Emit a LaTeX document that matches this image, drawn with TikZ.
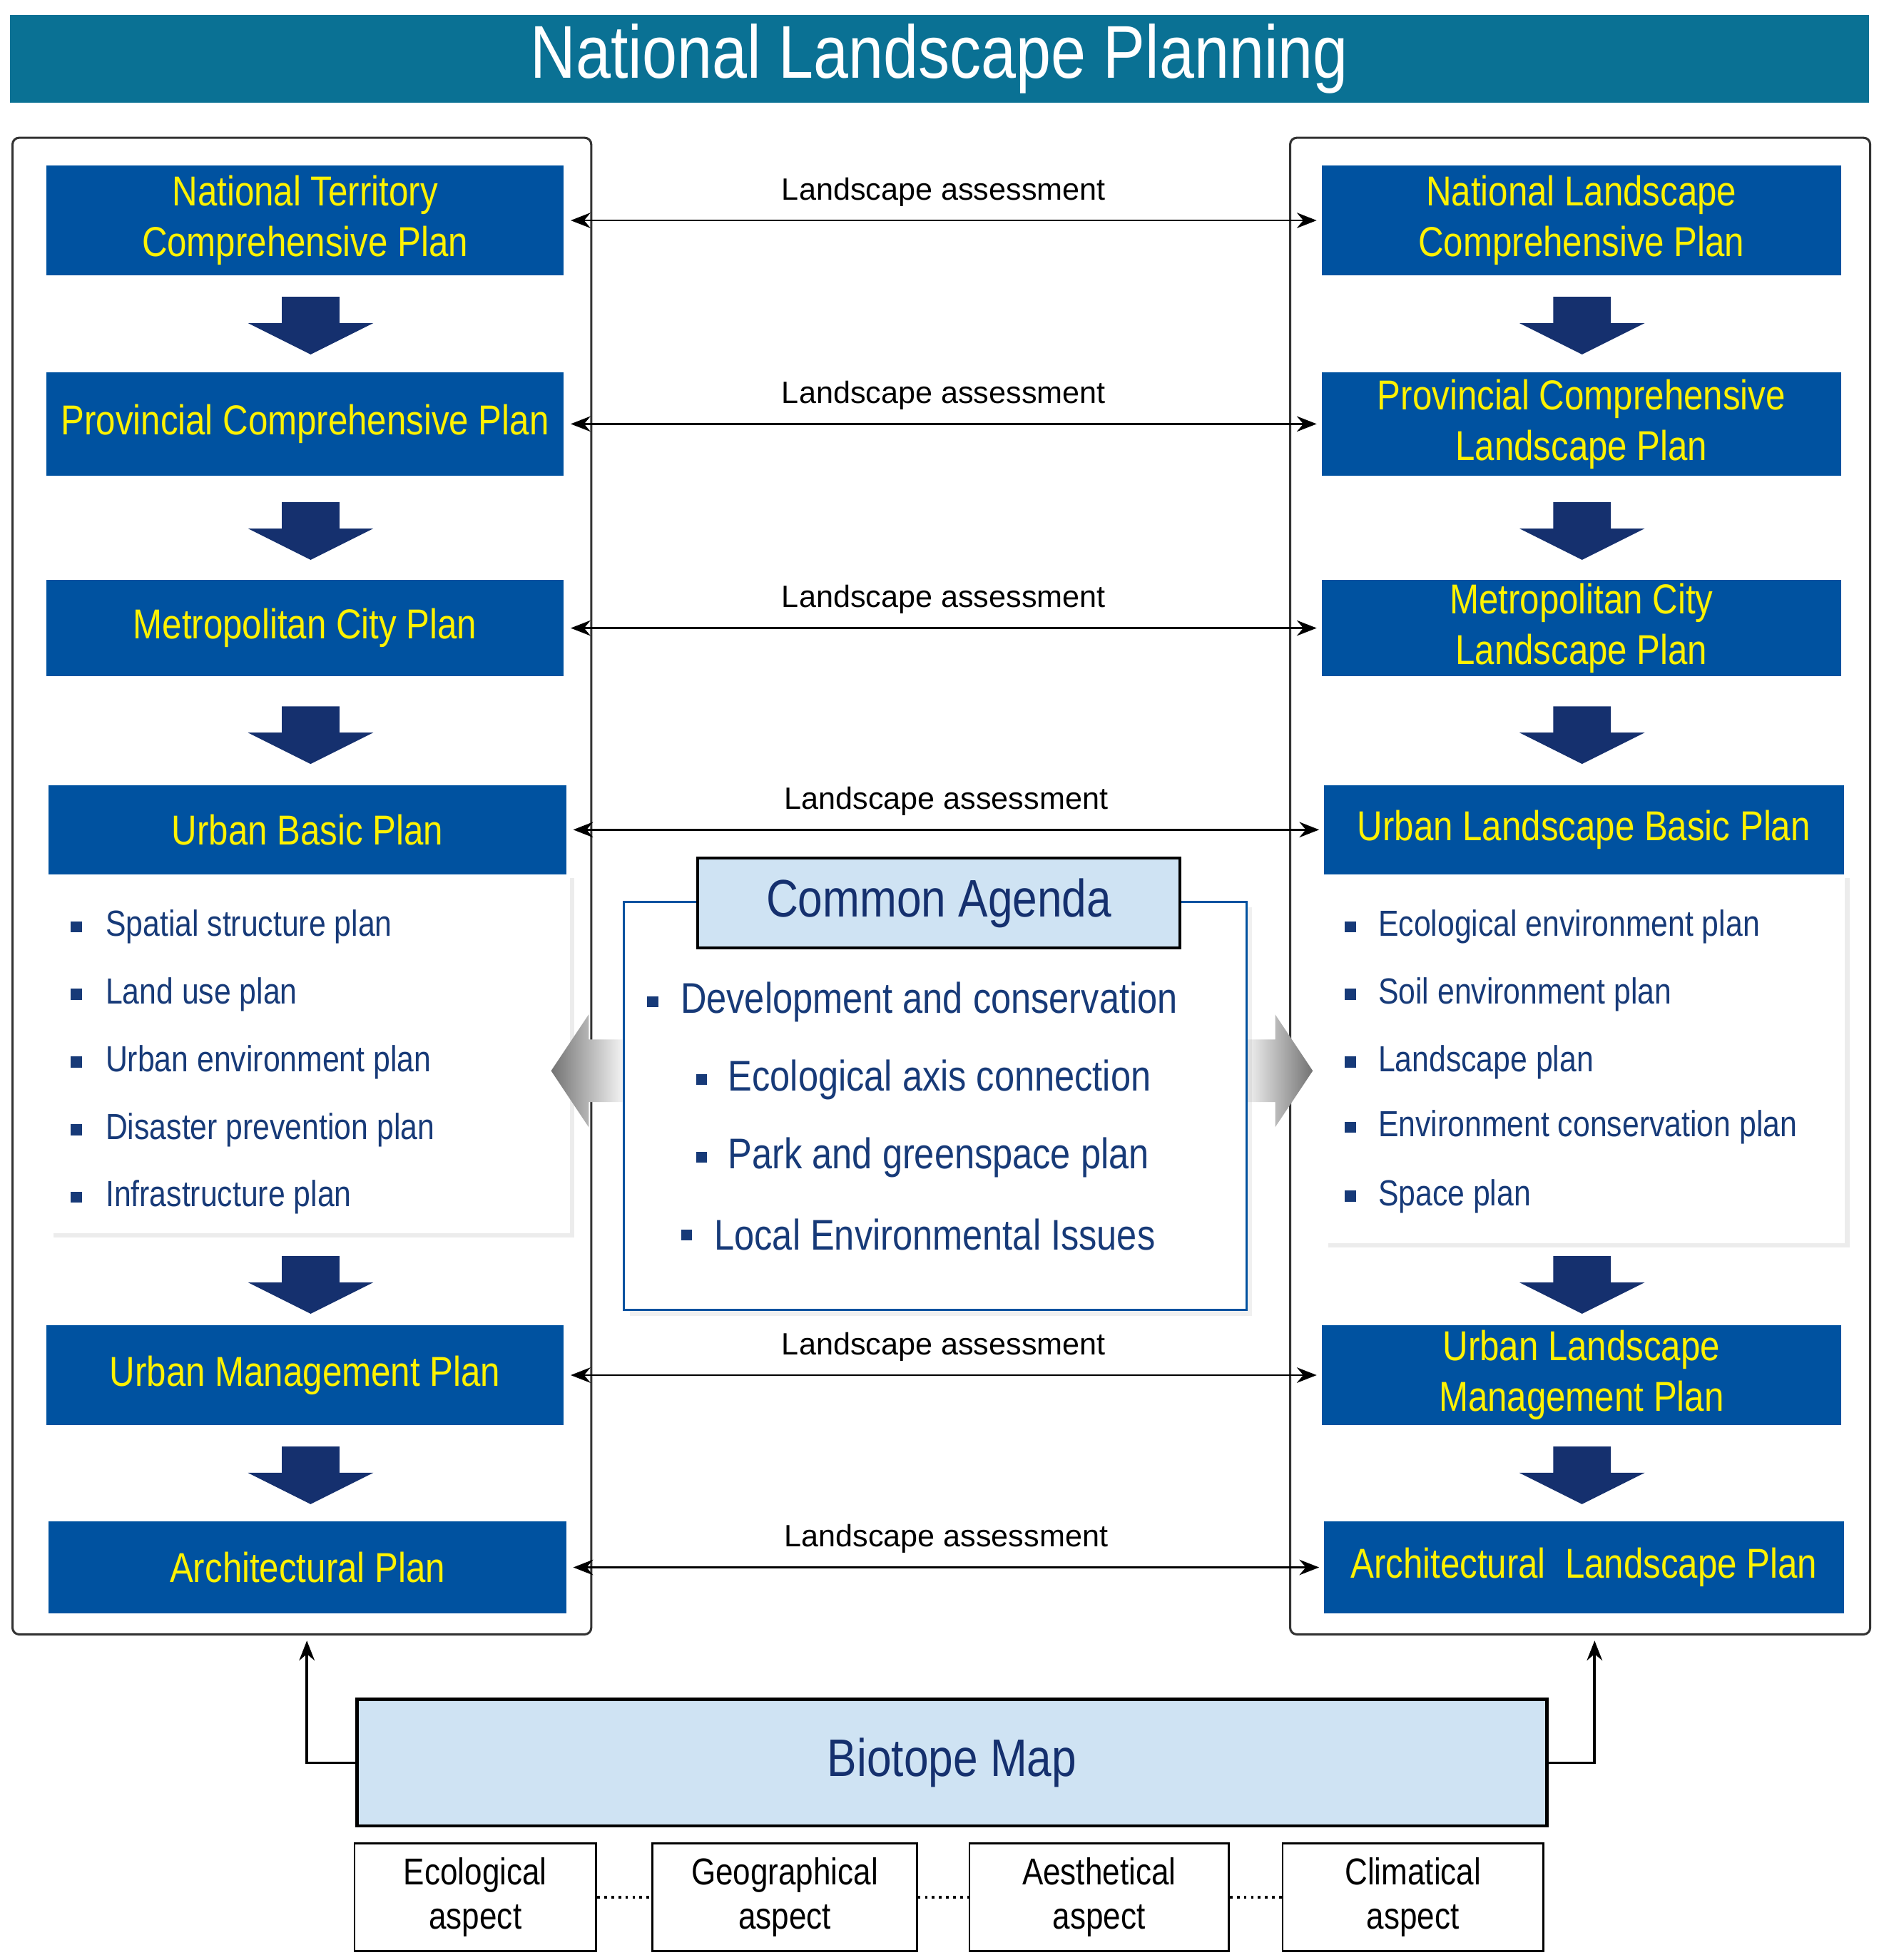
\documentclass[tikz,border=0pt]{standalone}
\usepackage{fontspec}
\setmainfont{Liberation Sans}
\newfontfamily\cond{Liberation Sans}[FakeStretch=0.84]
\usetikzlibrary{arrows.meta,shadows}
\definecolor{teal1}{HTML}{0A7194}
\definecolor{bbox}{HTML}{0052A0}
\definecolor{navy}{HTML}{15306E}
\definecolor{ylw}{HTML}{FFF200}
\definecolor{lblue}{HTML}{CFE3F3}
\definecolor{itemc}{HTML}{173A78}
\begin{document}
\begin{tikzpicture}[x=0.02cm,y=-0.02cm,
 box/.style={draw=none,fill=bbox,text=ylw,align=center,font=\cond\fontsize{19}{23}\selectfont,inner sep=0pt},
 item/.style={anchor=west,text=itemc,font=\cond\fontsize{16.5}{19}\selectfont,inner sep=0pt},
 bul/.style={fill=itemc,minimum size=5pt,inner sep=0pt},
 ass/.style={<->,>={Stealth[length=9pt,width=7pt]},line width=0.9pt},
 lab/.style={font=\fontsize{14}{16}\selectfont,inner sep=2pt},
 frame/.style={draw=black!80,line width=1pt,rounded corners=3pt},
 aspect/.style={draw=black,line width=0.9pt,align=center,font=\cond\fontsize{17}{20}\selectfont,inner sep=0pt}]
\useasboundingbox (0,0) rectangle (1500,1565);
% title
\node[fill=teal1,minimum width={1484*0.02cm},minimum height={70*0.02cm},inner sep=0pt,text=white,font=\cond\fontsize{34}{38}\selectfont] (title) at (750,47) {National Landscape Planning};
% frames
\draw[frame] (10,110) rectangle (472,1305);
\draw[frame] (1030,110) rectangle (1493,1305);
% list panels
\node[fill=white,drop shadow={opacity=0.15,shadow xshift=2pt,shadow yshift=-2pt},minimum width={416*0.02cm},minimum height={287*0.02cm},inner sep=0pt] (LP) at (247,841) {};
\node[fill=white,drop shadow={opacity=0.15,shadow xshift=2pt,shadow yshift=-2pt},minimum width={416*0.02cm},minimum height={295*0.02cm},inner sep=0pt] (RP) at (1265,845) {};
% left boxes
\node[box,minimum width={413*0.02cm},minimum height={88*0.02cm}] (L1) at (243.5,176) {National Territory\\Comprehensive Plan};
\node[box,minimum width={413*0.02cm},minimum height={83*0.02cm}] (L2) at (243.5,338.5) {Provincial Comprehensive Plan};
\node[box,minimum width={413*0.02cm},minimum height={77*0.02cm}] (L3) at (243.5,501.5) {Metropolitan City Plan};
\node[box,minimum width={413*0.02cm},minimum height={71*0.02cm}] (L4) at (245.5,662.5) {Urban Basic Plan};
\node[box,minimum width={413*0.02cm},minimum height={80*0.02cm}] (L5) at (243.5,1098) {Urban Management Plan};
\node[box,minimum width={413*0.02cm},minimum height={73*0.02cm}] (L6) at (245.5,1251.5) {Architectural Plan};
% right boxes
\node[box,minimum width={415*0.02cm},minimum height={88*0.02cm}] (R1) at (1262.5,176) {National Landscape\\Comprehensive Plan};
\node[box,minimum width={415*0.02cm},minimum height={83*0.02cm}] (R2) at (1262.5,338.5) {Provincial Comprehensive\\Landscape Plan};
\node[box,minimum width={415*0.02cm},minimum height={77*0.02cm}] (R3) at (1262.5,501.5) {Metropolitan City\\Landscape Plan};
\node[box,minimum width={415*0.02cm},minimum height={71*0.02cm}] (R4) at (1264.5,662.5) {Urban Landscape Basic Plan};
\node[box,minimum width={415*0.02cm},minimum height={80*0.02cm}] (R5) at (1262.5,1098) {Urban Landscape\\Management Plan};
\node[box,minimum width={415*0.02cm},minimum height={73*0.02cm}] (R6) at (1264.5,1251.5) {Architectural\ \ Landscape Plan};
% assessment arrows
\foreach \i in {1,...,6}{
 \draw[ass] ([xshift=3pt]L\i.east) -- node[lab,above,yshift=4pt]{Landscape assessment} ([xshift=-2pt]R\i.west);
}
% block down arrows
\foreach \cx in {248,1263}{
 \foreach \yt in {237,401,564,1003,1155}{
  \fill[navy] (\cx-23,\yt) -- (\cx+23,\yt) -- (\cx+23,\yt+21) -- (\cx+50,\yt+21) -- (\cx,\yt+46) -- (\cx-50,\yt+21) -- (\cx-23,\yt+21) -- cycle;
 }
}
% left list
\foreach \y/\t in {740/Spatial structure plan,794/Land use plan,848/Urban environment plan,902/Disaster prevention plan,956/Infrastructure plan}{
 \node[bul] at (61,\y) {};
 \node[item] at (84,\y) {\t};
}
\foreach \y/\t in {740/Ecological environment plan,794/Soil environment plan,848/Landscape plan,900/Environment conservation plan,955/Space plan}{
 \node[bul] at (1078,\y) {};
 \node[item] at (1100,\y) {\t};
}
% gray arrows
\shade[left color=gray!90!black,right color=gray!10] (497,830) -- (470,830) -- (470,810) -- (440,855) -- (470,900) -- (470,880) -- (497,880) -- cycle;
\shade[left color=gray!10,right color=gray!90!black] (995,830) -- (1018,830) -- (1018,810) -- (1048,855) -- (1018,900) -- (1018,880) -- (995,880) -- cycle;
% common agenda
\node[draw=bbox,line width=1pt,fill=white,drop shadow={opacity=0.12},minimum width={497*0.02cm},minimum height={326*0.02cm},inner sep=0pt] (CA) at (746.5,883) {};
\node[draw=black,line width=1.2pt,fill=lblue,minimum width={385*0.02cm},minimum height={72*0.02cm},inner sep=0pt,text=navy,font=\cond\fontsize{24}{28}\selectfont] (CAH) at (749.5,721) {Common Agenda};
\foreach \bx/\tx/\y/\t in {521/543/800/Development and conservation,560/581/862/Ecological axis connection,560/581/924/Park and greenspace plan,548/570/986/Local Environmental Issues}{
 \node[bul] at (\bx,\y) {};
 \node[item,font=\cond\fontsize{19.5}{23}\selectfont] at (\tx,\y) {\t};
}
% biotope
\node[draw=black,line width=1.5pt,fill=lblue,minimum width={950*0.02cm},minimum height={101*0.02cm},inner sep=0pt,text=navy,font=\cond\fontsize{24}{28}\selectfont] (BM) at (760,1407.5) {Biotope Map};
\coordinate (LT) at (245,1310);
\coordinate (RT) at (1273,1310);
\draw[line width=1.2pt,-{Stealth[length=9pt,width=7pt]}] (BM.west) -| (LT);
\draw[line width=1.2pt,-{Stealth[length=9pt,width=7pt]}] (BM.east) -| (RT);
\node[aspect,minimum width={193*0.02cm},minimum height={86*0.02cm}] (A1) at (379.5,1515) {Ecological\\aspect};
\node[aspect,minimum width={211*0.02cm},minimum height={86*0.02cm}] (A2) at (626.5,1515) {Geographical\\aspect};
\node[aspect,minimum width={207*0.02cm},minimum height={86*0.02cm}] (A3) at (877.5,1515) {Aesthetical\\aspect};
\node[aspect,minimum width={208*0.02cm},minimum height={86*0.02cm}] (A4) at (1128,1515) {Climatical\\aspect};
\draw[dotted,line width=1.2pt] (A1) -- (A2);
\draw[dotted,line width=1.2pt] (A2) -- (A3);
\draw[dotted,line width=1.2pt] (A3) -- (A4);
\end{tikzpicture}
\end{document}
